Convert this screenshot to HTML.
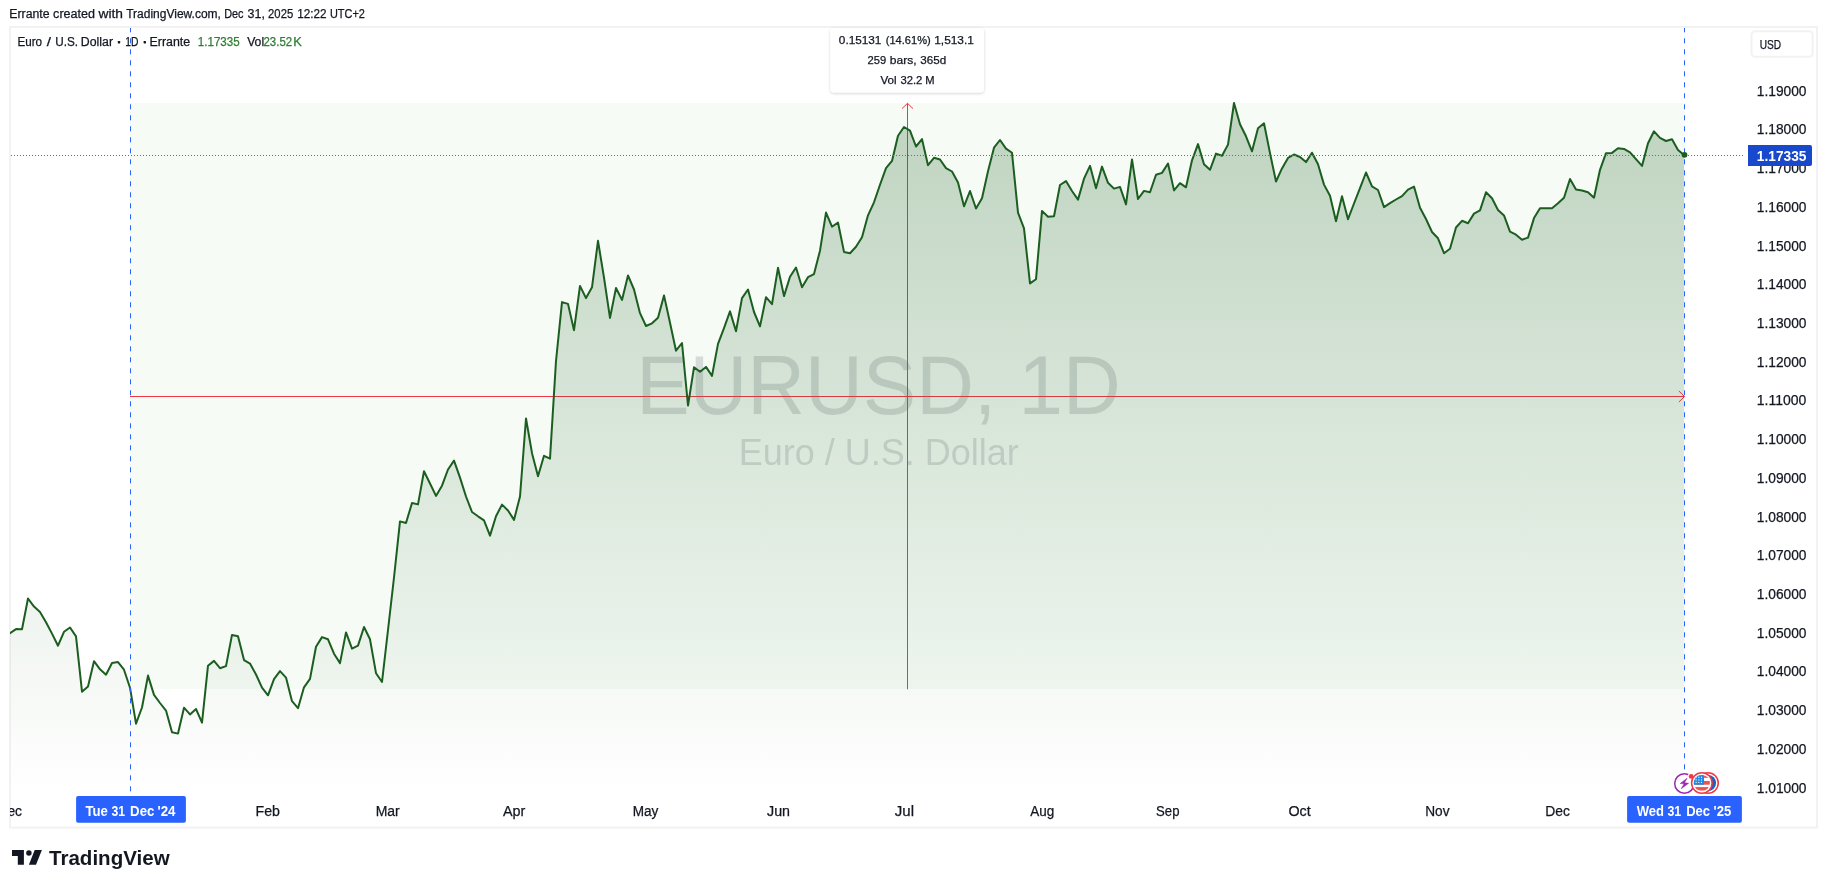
<!DOCTYPE html>
<html><head><meta charset="utf-8"><title>EURUSD chart</title>
<style>
html,body{margin:0;padding:0;background:#fff;}
body{width:1827px;height:888px;overflow:hidden;font-family:"Liberation Sans",sans-serif;}
svg{display:block;font-family:"Liberation Sans",sans-serif;will-change:transform;}
</style></head><body>
<svg width="1827" height="888" viewBox="0 0 1827 888">
<defs>
<linearGradient id="ag" gradientUnits="userSpaceOnUse" x1="0" y1="28" x2="0" y2="795.5">
<stop offset="0" stop-color="#1b5e20" stop-opacity="0.28"/>
<stop offset="1" stop-color="#1b5e20" stop-opacity="0"/>
</linearGradient>
<clipPath id="pane"><rect x="10" y="28" width="1806" height="799"/></clipPath>
<clipPath id="flag"><circle cx="1701.85" cy="783" r="8.1"/></clipPath>
<filter id="sh" x="-10%" y="-10%" width="120%" height="130%"><feDropShadow dx="0" dy="1" stdDeviation="1.5" flood-color="#000" flood-opacity="0.18"/></filter>
</defs>
<rect width="1827" height="888" fill="#fff"/>

<rect x="10" y="27" width="1807" height="800.6" fill="#fff" stroke="#f2f2f2" stroke-width="2"/>
<g clip-path="url(#pane)">
<text x="878.45" y="0" font-size="80" fill="rgb(120,123,134)" fill-opacity="0.25" text-anchor="middle" transform="translate(0,414) scale(1,1.045)">EURUSD, 1D</text>
<text x="878.7" y="0" font-size="36" fill="rgb(120,123,134)" fill-opacity="0.25" text-anchor="middle" transform="translate(0,465) scale(1,1.02)">Euro / U.S. Dollar</text>
<rect x="130" y="103" width="1554.5" height="586" fill="#4caf50" fill-opacity="0.05"/>
<line x1="130" y1="396.5" x2="1684.5" y2="396.5" stroke="#f23645" stroke-width="1"/>
<path d="M1678.9,391 L1684.5,396.5 L1678.9,402" fill="none" stroke="#f23645" stroke-width="1"/>
<line x1="907.5" y1="103.3" x2="907.5" y2="689.3" stroke="#f23645" stroke-width="1"/>
<path d="M902,108.6 L907.5,103.3 L913,108.6" fill="none" stroke="#f23645" stroke-width="1"/>
<path d="M10.0,633.3 L16.0,629.1 L22.0,629.3 L28.0,598.5 L34.0,606.6 L40.0,612.0 L46.0,622.3 L52.0,633.6 L58.0,645.7 L64.0,631.8 L70.0,627.5 L76.0,636.4 L82.0,691.7 L88.0,686.4 L94.0,661.2 L100.0,669.3 L106.0,674.7 L112.0,663.0 L118.0,662.1 L124.0,669.7 L130.0,687.7 L136.0,723.7 L142.0,707.5 L148.0,675.6 L154.0,694.9 L160.0,703.0 L166.0,710.6 L172.0,732.2 L178.0,733.6 L184.0,707.7 L190.0,714.4 L196.0,709.0 L202.0,722.7 L208.0,665.7 L214.0,660.9 L220.0,668.2 L226.0,666.1 L232.0,634.9 L238.0,636.2 L244.0,660.1 L250.0,663.6 L256.0,674.5 L262.0,687.7 L268.0,695.3 L274.0,679.1 L280.0,671.1 L286.0,677.6 L292.0,701.2 L298.0,708.2 L304.0,687.3 L310.0,678.9 L316.0,646.8 L322.0,637.1 L328.0,639.3 L334.0,653.7 L340.0,663.1 L346.0,632.4 L352.0,648.6 L358.0,645.6 L364.0,627.0 L370.0,639.3 L376.0,673.2 L382.0,682.0 L388.0,630.0 L394.0,577.5 L400.0,521.4 L406.0,523.0 L412.0,503.0 L418.0,504.4 L424.0,471.3 L430.0,483.5 L436.0,495.9 L442.0,485.7 L448.0,469.5 L454.0,460.6 L460.0,477.6 L466.0,496.5 L472.0,512.0 L478.0,516.3 L484.0,520.3 L490.0,535.6 L496.0,516.3 L502.0,504.6 L508.0,510.5 L514.0,519.9 L520.0,496.5 L526.0,418.5 L532.0,453.2 L538.0,476.3 L544.0,455.8 L550.0,458.6 L556.0,361.0 L562.0,302.1 L568.0,303.9 L574.0,330.2 L580.0,285.9 L586.0,298.1 L592.0,287.3 L598.0,240.8 L604.0,277.7 L610.0,317.9 L616.0,288.0 L622.0,299.9 L628.0,275.4 L634.0,289.5 L640.0,313.2 L646.0,326.0 L652.0,323.3 L658.0,317.7 L664.0,295.4 L670.0,322.8 L676.0,350.7 L682.0,343.0 L688.0,405.5 L694.0,367.3 L700.0,371.8 L706.0,366.9 L712.0,375.9 L718.0,343.9 L724.0,328.2 L730.0,311.4 L736.0,331.3 L742.0,298.1 L748.0,289.5 L754.0,312.0 L760.0,326.4 L766.0,297.2 L772.0,304.2 L778.0,267.8 L784.0,296.1 L790.0,276.8 L796.0,267.5 L802.0,287.3 L808.0,277.2 L814.0,274.1 L820.0,250.7 L826.0,212.6 L832.0,226.7 L838.0,222.5 L844.0,251.9 L850.0,253.2 L856.0,246.8 L862.0,237.3 L868.0,215.3 L874.0,202.3 L880.0,184.7 L886.0,168.1 L892.0,160.9 L898.0,135.7 L904.0,127.0 L910.0,130.6 L916.0,146.5 L922.0,139.1 L928.0,165.2 L934.0,157.8 L940.0,159.5 L946.0,168.1 L952.0,171.5 L958.0,182.5 L964.0,206.3 L970.0,191.0 L976.0,208.5 L982.0,198.2 L988.0,171.2 L994.0,147.7 L1000.0,140.0 L1006.0,148.6 L1012.0,152.8 L1018.0,212.6 L1024.0,228.3 L1030.0,283.4 L1036.0,279.2 L1042.0,210.9 L1048.0,216.8 L1054.0,216.2 L1060.0,185.0 L1066.0,181.1 L1072.0,191.0 L1078.0,199.6 L1084.0,178.7 L1090.0,165.8 L1096.0,188.3 L1102.0,166.6 L1108.0,182.8 L1114.0,188.6 L1120.0,186.9 L1126.0,204.4 L1132.0,159.4 L1138.0,199.0 L1144.0,190.9 L1150.0,192.3 L1156.0,174.7 L1162.0,172.9 L1168.0,163.5 L1174.0,190.4 L1180.0,183.2 L1186.0,187.3 L1192.0,160.3 L1198.0,144.1 L1204.0,164.2 L1210.0,169.8 L1216.0,153.6 L1222.0,155.8 L1228.0,144.6 L1234.0,103.0 L1240.0,124.2 L1246.0,136.3 L1252.0,151.3 L1258.0,128.2 L1264.0,123.3 L1270.0,153.1 L1276.0,181.5 L1282.0,168.4 L1288.0,157.9 L1294.0,154.5 L1300.0,157.0 L1306.0,162.1 L1312.0,152.7 L1318.0,164.2 L1324.0,184.6 L1330.0,195.8 L1336.0,221.2 L1342.0,196.3 L1348.0,219.2 L1354.0,203.5 L1360.0,188.2 L1366.0,172.5 L1372.0,186.4 L1378.0,190.0 L1384.0,207.1 L1390.0,203.2 L1396.0,199.5 L1402.0,196.1 L1408.0,189.6 L1414.0,186.6 L1420.0,207.7 L1426.0,219.0 L1432.0,232.0 L1438.0,238.3 L1444.0,253.2 L1450.0,248.7 L1456.0,227.5 L1462.0,220.8 L1468.0,223.2 L1474.0,213.6 L1480.0,210.4 L1486.0,192.3 L1492.0,198.3 L1498.0,210.0 L1504.0,215.4 L1510.0,231.6 L1516.0,234.7 L1522.0,239.7 L1528.0,237.6 L1534.0,218.1 L1540.0,208.2 L1546.0,208.2 L1552.0,208.2 L1558.0,203.3 L1564.0,197.7 L1570.0,179.0 L1576.0,189.6 L1582.0,190.5 L1588.0,192.3 L1594.0,197.7 L1600.0,169.8 L1606.0,153.2 L1612.0,152.9 L1618.0,148.2 L1624.0,148.9 L1630.0,152.3 L1636.0,159.2 L1642.0,165.9 L1648.0,143.3 L1654.0,131.3 L1660.0,137.9 L1666.0,141.0 L1672.0,139.2 L1678.0,150.0 L1684.0,155.0 L1684.0,795.5 L10.0,795.5 Z" fill="url(#ag)"/>
<path d="M10.0,633.3 L16.0,629.1 L22.0,629.3 L28.0,598.5 L34.0,606.6 L40.0,612.0 L46.0,622.3 L52.0,633.6 L58.0,645.7 L64.0,631.8 L70.0,627.5 L76.0,636.4 L82.0,691.7 L88.0,686.4 L94.0,661.2 L100.0,669.3 L106.0,674.7 L112.0,663.0 L118.0,662.1 L124.0,669.7 L130.0,687.7 L136.0,723.7 L142.0,707.5 L148.0,675.6 L154.0,694.9 L160.0,703.0 L166.0,710.6 L172.0,732.2 L178.0,733.6 L184.0,707.7 L190.0,714.4 L196.0,709.0 L202.0,722.7 L208.0,665.7 L214.0,660.9 L220.0,668.2 L226.0,666.1 L232.0,634.9 L238.0,636.2 L244.0,660.1 L250.0,663.6 L256.0,674.5 L262.0,687.7 L268.0,695.3 L274.0,679.1 L280.0,671.1 L286.0,677.6 L292.0,701.2 L298.0,708.2 L304.0,687.3 L310.0,678.9 L316.0,646.8 L322.0,637.1 L328.0,639.3 L334.0,653.7 L340.0,663.1 L346.0,632.4 L352.0,648.6 L358.0,645.6 L364.0,627.0 L370.0,639.3 L376.0,673.2 L382.0,682.0 L388.0,630.0 L394.0,577.5 L400.0,521.4 L406.0,523.0 L412.0,503.0 L418.0,504.4 L424.0,471.3 L430.0,483.5 L436.0,495.9 L442.0,485.7 L448.0,469.5 L454.0,460.6 L460.0,477.6 L466.0,496.5 L472.0,512.0 L478.0,516.3 L484.0,520.3 L490.0,535.6 L496.0,516.3 L502.0,504.6 L508.0,510.5 L514.0,519.9 L520.0,496.5 L526.0,418.5 L532.0,453.2 L538.0,476.3 L544.0,455.8 L550.0,458.6 L556.0,361.0 L562.0,302.1 L568.0,303.9 L574.0,330.2 L580.0,285.9 L586.0,298.1 L592.0,287.3 L598.0,240.8 L604.0,277.7 L610.0,317.9 L616.0,288.0 L622.0,299.9 L628.0,275.4 L634.0,289.5 L640.0,313.2 L646.0,326.0 L652.0,323.3 L658.0,317.7 L664.0,295.4 L670.0,322.8 L676.0,350.7 L682.0,343.0 L688.0,405.5 L694.0,367.3 L700.0,371.8 L706.0,366.9 L712.0,375.9 L718.0,343.9 L724.0,328.2 L730.0,311.4 L736.0,331.3 L742.0,298.1 L748.0,289.5 L754.0,312.0 L760.0,326.4 L766.0,297.2 L772.0,304.2 L778.0,267.8 L784.0,296.1 L790.0,276.8 L796.0,267.5 L802.0,287.3 L808.0,277.2 L814.0,274.1 L820.0,250.7 L826.0,212.6 L832.0,226.7 L838.0,222.5 L844.0,251.9 L850.0,253.2 L856.0,246.8 L862.0,237.3 L868.0,215.3 L874.0,202.3 L880.0,184.7 L886.0,168.1 L892.0,160.9 L898.0,135.7 L904.0,127.0 L910.0,130.6 L916.0,146.5 L922.0,139.1 L928.0,165.2 L934.0,157.8 L940.0,159.5 L946.0,168.1 L952.0,171.5 L958.0,182.5 L964.0,206.3 L970.0,191.0 L976.0,208.5 L982.0,198.2 L988.0,171.2 L994.0,147.7 L1000.0,140.0 L1006.0,148.6 L1012.0,152.8 L1018.0,212.6 L1024.0,228.3 L1030.0,283.4 L1036.0,279.2 L1042.0,210.9 L1048.0,216.8 L1054.0,216.2 L1060.0,185.0 L1066.0,181.1 L1072.0,191.0 L1078.0,199.6 L1084.0,178.7 L1090.0,165.8 L1096.0,188.3 L1102.0,166.6 L1108.0,182.8 L1114.0,188.6 L1120.0,186.9 L1126.0,204.4 L1132.0,159.4 L1138.0,199.0 L1144.0,190.9 L1150.0,192.3 L1156.0,174.7 L1162.0,172.9 L1168.0,163.5 L1174.0,190.4 L1180.0,183.2 L1186.0,187.3 L1192.0,160.3 L1198.0,144.1 L1204.0,164.2 L1210.0,169.8 L1216.0,153.6 L1222.0,155.8 L1228.0,144.6 L1234.0,103.0 L1240.0,124.2 L1246.0,136.3 L1252.0,151.3 L1258.0,128.2 L1264.0,123.3 L1270.0,153.1 L1276.0,181.5 L1282.0,168.4 L1288.0,157.9 L1294.0,154.5 L1300.0,157.0 L1306.0,162.1 L1312.0,152.7 L1318.0,164.2 L1324.0,184.6 L1330.0,195.8 L1336.0,221.2 L1342.0,196.3 L1348.0,219.2 L1354.0,203.5 L1360.0,188.2 L1366.0,172.5 L1372.0,186.4 L1378.0,190.0 L1384.0,207.1 L1390.0,203.2 L1396.0,199.5 L1402.0,196.1 L1408.0,189.6 L1414.0,186.6 L1420.0,207.7 L1426.0,219.0 L1432.0,232.0 L1438.0,238.3 L1444.0,253.2 L1450.0,248.7 L1456.0,227.5 L1462.0,220.8 L1468.0,223.2 L1474.0,213.6 L1480.0,210.4 L1486.0,192.3 L1492.0,198.3 L1498.0,210.0 L1504.0,215.4 L1510.0,231.6 L1516.0,234.7 L1522.0,239.7 L1528.0,237.6 L1534.0,218.1 L1540.0,208.2 L1546.0,208.2 L1552.0,208.2 L1558.0,203.3 L1564.0,197.7 L1570.0,179.0 L1576.0,189.6 L1582.0,190.5 L1588.0,192.3 L1594.0,197.7 L1600.0,169.8 L1606.0,153.2 L1612.0,152.9 L1618.0,148.2 L1624.0,148.9 L1630.0,152.3 L1636.0,159.2 L1642.0,165.9 L1648.0,143.3 L1654.0,131.3 L1660.0,137.9 L1666.0,141.0 L1672.0,139.2 L1678.0,150.0 L1684.0,155.0" fill="none" stroke="#1b5e20" stroke-width="2" stroke-linejoin="round" stroke-linecap="round"/>
<line x1="11" y1="155.5" x2="1745" y2="155.5" stroke="#f23645" stroke-width="1" stroke-dasharray="1 2"/>
<line x1="130.5" y1="27.3" x2="130.5" y2="795" stroke="#2962ff" stroke-width="1" stroke-dasharray="5 6"/>
<line x1="1684.5" y1="27.3" x2="1684.5" y2="795" stroke="#2962ff" stroke-width="1" stroke-dasharray="5 6"/>
<circle cx="1684.5" cy="154.8" r="2.9" fill="#1b5e20"/>
</g>
<rect x="830.3" y="28.1" width="153.7" height="64.5" rx="4" fill="#fff" filter="url(#sh)"/>
<rect x="1751.5" y="31.2" width="61.1" height="25.5" rx="3.5" fill="#fff" stroke="#f2f2f2" stroke-width="2"/>
<rect x="76.1" y="796" width="109.8" height="26.8" rx="2" fill="#2962ff"/>
<rect x="1627.1" y="796" width="114.8" height="26.8" rx="2" fill="#2962ff"/>
<circle cx="1684.4" cy="783.5" r="9.7" fill="#fff" stroke="#9c27b0" stroke-width="1.5"/>
<path d="M1687.07,778.2 L1680.18,783.53 L1684.12,783.84 L1681.16,788.85 L1688.65,783.21 L1684.51,782.82 Z" fill="#9c27b0" stroke="#9c27b0" stroke-width="0.5" stroke-linejoin="round"/>
<circle cx="1691.2" cy="776.4" r="3.4" fill="#fff"/>
<circle cx="1691.2" cy="776.4" r="2.4" fill="#f23645"/>
<circle cx="1708" cy="783" r="10.25" fill="#fff" stroke="#f23645" stroke-width="1.5"/>
<circle cx="1708" cy="783" r="8.1" fill="#1565c0"/>
<circle cx="1701.85" cy="783" r="10.25" fill="#fff" stroke="#f23645" stroke-width="1.5"/>
<g clip-path="url(#flag)">
<rect x="1690" y="770" width="24" height="26" fill="#fff"/>
<rect x="1690" y="775.45" width="24" height="2.36" fill="#ef5350"/>
<rect x="1690" y="780.96" width="24" height="3.74" fill="#ef5350"/>
<rect x="1690" y="787.07" width="24" height="3.55" fill="#ef5350"/>
<rect x="1690" y="770" width="14.02" height="14.71" fill="#1e88e5"/>
<rect x="1695.59" y="776.75" width="1.1" height="1.1" fill="#fff"/>
<rect x="1695.59" y="779.35" width="1.1" height="1.1" fill="#fff"/>
<rect x="1695.59" y="781.87" width="1.1" height="1.1" fill="#fff"/>
<rect x="1698.27" y="776.75" width="1.1" height="1.1" fill="#fff"/>
<rect x="1698.27" y="779.35" width="1.1" height="1.1" fill="#fff"/>
<rect x="1698.27" y="781.87" width="1.1" height="1.1" fill="#fff"/>
<rect x="1700.95" y="776.75" width="1.1" height="1.1" fill="#fff"/>
<rect x="1700.95" y="779.35" width="1.1" height="1.1" fill="#fff"/>
<rect x="1700.95" y="781.87" width="1.1" height="1.1" fill="#fff"/>
</g>
<path d="M12,850.1 H23.9 V864.8 H17.8 V856 H12 Z" fill="#131722"/>
<circle cx="28.9" cy="853" r="2.75" fill="#131722"/>
<path d="M34.7,850.1 H41.9 L36,864.8 H28.9 Z" fill="#131722"/>
<rect x="117.8" y="41" width="2.4" height="2.4" rx="0.6" fill="#131722"/><rect x="143.6" y="41" width="2.4" height="2.4" rx="0.6" fill="#131722"/>
<text x="9.32" y="18.3" font-size="12" font-weight="normal" fill="#131722" textLength="40.32" lengthAdjust="spacingAndGlyphs" stroke="#131722" stroke-width="0.25">Errante</text>
<text x="53.12" y="18.3" font-size="12" font-weight="normal" fill="#131722" textLength="41.89" lengthAdjust="spacingAndGlyphs" stroke="#131722" stroke-width="0.25">created</text>
<text x="98.45" y="18.3" font-size="12" font-weight="normal" fill="#131722" textLength="24.49" lengthAdjust="spacingAndGlyphs" stroke="#131722" stroke-width="0.25">with</text>
<text x="126.22" y="18.3" font-size="12" font-weight="normal" fill="#131722" textLength="94.69" lengthAdjust="spacingAndGlyphs" stroke="#131722" stroke-width="0.25">TradingView.com,</text>
<text x="224.17" y="18.3" font-size="12" font-weight="normal" fill="#131722" textLength="19.36" lengthAdjust="spacingAndGlyphs" stroke="#131722" stroke-width="0.25">Dec</text>
<text x="247.5" y="18.3" font-size="12" font-weight="normal" fill="#131722" textLength="17.35" lengthAdjust="spacingAndGlyphs" stroke="#131722" stroke-width="0.25">31,</text>
<text x="268.1" y="18.3" font-size="12" font-weight="normal" fill="#131722" textLength="25.11" lengthAdjust="spacingAndGlyphs" stroke="#131722" stroke-width="0.25">2025</text>
<text x="297.29" y="18.3" font-size="12" font-weight="normal" fill="#131722" textLength="29.25" lengthAdjust="spacingAndGlyphs" stroke="#131722" stroke-width="0.25">12:22</text>
<text x="329.93" y="18.3" font-size="12" font-weight="normal" fill="#131722" textLength="34.93" lengthAdjust="spacingAndGlyphs" stroke="#131722" stroke-width="0.25">UTC+2</text>
<text x="17.43" y="45.5" font-size="12" font-weight="normal" fill="#131722" textLength="24.64" lengthAdjust="spacingAndGlyphs" stroke="#131722" stroke-width="0.25">Euro</text>
<text x="46.8" y="45.5" font-size="12" font-weight="normal" fill="#131722" textLength="4.23" lengthAdjust="spacingAndGlyphs" stroke="#131722" stroke-width="0.25">/</text>
<text x="55.17" y="45.5" font-size="12" font-weight="normal" fill="#131722" textLength="22.82" lengthAdjust="spacingAndGlyphs" stroke="#131722" stroke-width="0.25">U.S.</text>
<text x="80.82" y="45.5" font-size="12" font-weight="normal" fill="#131722" textLength="32.17" lengthAdjust="spacingAndGlyphs" stroke="#131722" stroke-width="0.25">Dollar</text>
<text x="125.35" y="45.5" font-size="12" font-weight="normal" fill="#131722" textLength="13.19" lengthAdjust="spacingAndGlyphs" stroke="#131722" stroke-width="0.25">1D</text>
<text x="149.51" y="45.5" font-size="12" font-weight="normal" fill="#131722" textLength="40.62" lengthAdjust="spacingAndGlyphs" stroke="#131722" stroke-width="0.25">Errante</text>
<text x="197.8" y="45.5" font-size="12" font-weight="normal" fill="#2e7d32" textLength="41.92" lengthAdjust="spacingAndGlyphs" stroke="#2e7d32" stroke-width="0.25">1.17335</text>
<text x="247.2" y="45.5" font-size="12" font-weight="normal" fill="#131722" textLength="16.9" lengthAdjust="spacingAndGlyphs" stroke="#131722" stroke-width="0.25">Vol</text>
<text x="263.49" y="45.5" font-size="12" font-weight="normal" fill="#2e7d32" textLength="28.63" lengthAdjust="spacingAndGlyphs" stroke="#2e7d32" stroke-width="0.25">23.52</text>
<text x="293.27" y="45.5" font-size="12" font-weight="normal" fill="#2e7d32" textLength="8.59" lengthAdjust="spacingAndGlyphs" stroke="#2e7d32" stroke-width="0.25">K</text>
<text x="838.89" y="43.6" font-size="11.3" font-weight="normal" fill="#131722" textLength="42.51" lengthAdjust="spacingAndGlyphs" stroke="#131722" stroke-width="0.25">0.15131</text>
<text x="885.78" y="43.6" font-size="11.3" font-weight="normal" fill="#131722" textLength="44.96" lengthAdjust="spacingAndGlyphs" stroke="#131722" stroke-width="0.25">(14.61%)</text>
<text x="934.26" y="43.6" font-size="11.3" font-weight="normal" fill="#131722" textLength="39.65" lengthAdjust="spacingAndGlyphs" stroke="#131722" stroke-width="0.25">1,513.1</text>
<text x="867.5" y="63.7" font-size="11.3" font-weight="normal" fill="#131722" textLength="18.62" lengthAdjust="spacingAndGlyphs" stroke="#131722" stroke-width="0.25">259</text>
<text x="889.86" y="63.7" font-size="11.3" font-weight="normal" fill="#131722" textLength="26.82" lengthAdjust="spacingAndGlyphs" stroke="#131722" stroke-width="0.25">bars,</text>
<text x="920.33" y="63.7" font-size="11.3" font-weight="normal" fill="#131722" textLength="25.94" lengthAdjust="spacingAndGlyphs" stroke="#131722" stroke-width="0.25">365d</text>
<text x="880.49" y="83.6" font-size="11.3" font-weight="normal" fill="#131722" textLength="16.15" lengthAdjust="spacingAndGlyphs" stroke="#131722" stroke-width="0.25">Vol</text>
<text x="900.44" y="83.6" font-size="11.3" font-weight="normal" fill="#131722" textLength="21.94" lengthAdjust="spacingAndGlyphs" stroke="#131722" stroke-width="0.25">32.2</text>
<text x="925.26" y="83.6" font-size="11.3" font-weight="normal" fill="#131722" textLength="9.31" lengthAdjust="spacingAndGlyphs" stroke="#131722" stroke-width="0.25">M</text>
<text x="1759.75" y="48.9" font-size="12" font-weight="normal" fill="#131722" textLength="21.45" lengthAdjust="spacingAndGlyphs" stroke="#131722" stroke-width="0.25">USD</text>
<text x="1756.77" y="95.6" font-size="14" font-weight="normal" fill="#131722" textLength="49.71" lengthAdjust="spacingAndGlyphs" stroke="#131722" stroke-width="0.25">1.19000</text>
<text x="1756.77" y="134.3" font-size="14" font-weight="normal" fill="#131722" textLength="49.71" lengthAdjust="spacingAndGlyphs" stroke="#131722" stroke-width="0.25">1.18000</text>
<text x="1756.77" y="173.0" font-size="14" font-weight="normal" fill="#131722" textLength="49.71" lengthAdjust="spacingAndGlyphs" stroke="#131722" stroke-width="0.25">1.17000</text>
<text x="1756.77" y="211.8" font-size="14" font-weight="normal" fill="#131722" textLength="49.71" lengthAdjust="spacingAndGlyphs" stroke="#131722" stroke-width="0.25">1.16000</text>
<text x="1756.77" y="250.5" font-size="14" font-weight="normal" fill="#131722" textLength="49.71" lengthAdjust="spacingAndGlyphs" stroke="#131722" stroke-width="0.25">1.15000</text>
<text x="1756.77" y="289.2" font-size="14" font-weight="normal" fill="#131722" textLength="49.71" lengthAdjust="spacingAndGlyphs" stroke="#131722" stroke-width="0.25">1.14000</text>
<text x="1756.77" y="327.9" font-size="14" font-weight="normal" fill="#131722" textLength="49.71" lengthAdjust="spacingAndGlyphs" stroke="#131722" stroke-width="0.25">1.13000</text>
<text x="1756.77" y="366.6" font-size="14" font-weight="normal" fill="#131722" textLength="49.71" lengthAdjust="spacingAndGlyphs" stroke="#131722" stroke-width="0.25">1.12000</text>
<text x="1756.75" y="405.4" font-size="14" font-weight="normal" fill="#131722" textLength="49.6" lengthAdjust="spacingAndGlyphs" stroke="#131722" stroke-width="0.25">1.11000</text>
<text x="1756.77" y="444.1" font-size="14" font-weight="normal" fill="#131722" textLength="49.71" lengthAdjust="spacingAndGlyphs" stroke="#131722" stroke-width="0.25">1.10000</text>
<text x="1756.77" y="482.8" font-size="14" font-weight="normal" fill="#131722" textLength="49.71" lengthAdjust="spacingAndGlyphs" stroke="#131722" stroke-width="0.25">1.09000</text>
<text x="1756.77" y="521.5" font-size="14" font-weight="normal" fill="#131722" textLength="49.71" lengthAdjust="spacingAndGlyphs" stroke="#131722" stroke-width="0.25">1.08000</text>
<text x="1756.77" y="560.2" font-size="14" font-weight="normal" fill="#131722" textLength="49.71" lengthAdjust="spacingAndGlyphs" stroke="#131722" stroke-width="0.25">1.07000</text>
<text x="1756.77" y="599.0" font-size="14" font-weight="normal" fill="#131722" textLength="49.71" lengthAdjust="spacingAndGlyphs" stroke="#131722" stroke-width="0.25">1.06000</text>
<text x="1756.77" y="637.7" font-size="14" font-weight="normal" fill="#131722" textLength="49.71" lengthAdjust="spacingAndGlyphs" stroke="#131722" stroke-width="0.25">1.05000</text>
<text x="1756.77" y="676.4" font-size="14" font-weight="normal" fill="#131722" textLength="49.71" lengthAdjust="spacingAndGlyphs" stroke="#131722" stroke-width="0.25">1.04000</text>
<text x="1756.77" y="715.1" font-size="14" font-weight="normal" fill="#131722" textLength="49.71" lengthAdjust="spacingAndGlyphs" stroke="#131722" stroke-width="0.25">1.03000</text>
<text x="1756.77" y="753.8" font-size="14" font-weight="normal" fill="#131722" textLength="49.71" lengthAdjust="spacingAndGlyphs" stroke="#131722" stroke-width="0.25">1.02000</text>
<text x="1756.77" y="792.6" font-size="14" font-weight="normal" fill="#131722" textLength="49.71" lengthAdjust="spacingAndGlyphs" stroke="#131722" stroke-width="0.25">1.01000</text>
<path d="M1748,145 H1810 a2,2 0 0 1 2,2 V164 a2,2 0 0 1 -2,2 H1748 Z" fill="#1848cc"/>
<text x="1756.85" y="160.9" font-size="14" font-weight="bold" fill="#ffffff" textLength="49.53" lengthAdjust="spacingAndGlyphs">1.17335</text>
<text x="255.54" y="816" font-size="14" font-weight="normal" fill="#131722" textLength="24.4" lengthAdjust="spacingAndGlyphs" stroke="#131722" stroke-width="0.25">Feb</text>
<text x="375.65" y="816" font-size="14" font-weight="normal" fill="#131722" textLength="24.09" lengthAdjust="spacingAndGlyphs" stroke="#131722" stroke-width="0.25">Mar</text>
<text x="502.94" y="816" font-size="14" font-weight="normal" fill="#131722" textLength="22.4" lengthAdjust="spacingAndGlyphs" stroke="#131722" stroke-width="0.25">Apr</text>
<text x="632.66" y="816" font-size="14" font-weight="normal" fill="#131722" textLength="25.64" lengthAdjust="spacingAndGlyphs" stroke="#131722" stroke-width="0.25">May</text>
<text x="767.02" y="816" font-size="14" font-weight="normal" fill="#131722" textLength="23.03" lengthAdjust="spacingAndGlyphs" stroke="#131722" stroke-width="0.25">Jun</text>
<text x="894.82" y="816" font-size="14" font-weight="normal" fill="#131722" textLength="19.22" lengthAdjust="spacingAndGlyphs" stroke="#131722" stroke-width="0.25">Jul</text>
<text x="1030.34" y="816" font-size="14" font-weight="normal" fill="#131722" textLength="24.03" lengthAdjust="spacingAndGlyphs" stroke="#131722" stroke-width="0.25">Aug</text>
<text x="1156.08" y="816" font-size="14" font-weight="normal" fill="#131722" textLength="23.36" lengthAdjust="spacingAndGlyphs" stroke="#131722" stroke-width="0.25">Sep</text>
<text x="1288.41" y="816" font-size="14" font-weight="normal" fill="#131722" textLength="22.29" lengthAdjust="spacingAndGlyphs" stroke="#131722" stroke-width="0.25">Oct</text>
<text x="1425.26" y="816" font-size="14" font-weight="normal" fill="#131722" textLength="24.32" lengthAdjust="spacingAndGlyphs" stroke="#131722" stroke-width="0.25">Nov</text>
<text x="1545.36" y="816" font-size="14" font-weight="normal" fill="#131722" textLength="24.66" lengthAdjust="spacingAndGlyphs" stroke="#131722" stroke-width="0.25">Dec</text>
<g clip-path="url(#pane)"><text x="-2.64" y="816" font-size="14" font-weight="normal" fill="#131722" textLength="24.66" lengthAdjust="spacingAndGlyphs" stroke="#131722" stroke-width="0.25">Dec</text></g>
<text x="85.38" y="816" font-size="14" font-weight="bold" fill="#ffffff" textLength="22.47" lengthAdjust="spacingAndGlyphs">Tue</text>
<text x="111.47" y="816" font-size="14" font-weight="bold" fill="#ffffff" textLength="13.55" lengthAdjust="spacingAndGlyphs">31</text>
<text x="130.12" y="816" font-size="14" font-weight="bold" fill="#ffffff" textLength="24.18" lengthAdjust="spacingAndGlyphs">Dec</text>
<text x="157.47" y="816" font-size="14" font-weight="bold" fill="#ffffff" textLength="17.98" lengthAdjust="spacingAndGlyphs">&#39;24</text>
<text x="1636.68" y="816" font-size="14" font-weight="bold" fill="#ffffff" textLength="27.24" lengthAdjust="spacingAndGlyphs">Wed</text>
<text x="1667.47" y="816" font-size="14" font-weight="bold" fill="#ffffff" textLength="13.78" lengthAdjust="spacingAndGlyphs">31</text>
<text x="1686.22" y="816" font-size="14" font-weight="bold" fill="#ffffff" textLength="23.87" lengthAdjust="spacingAndGlyphs">Dec</text>
<text x="1713.58" y="816" font-size="14" font-weight="bold" fill="#ffffff" textLength="17.64" lengthAdjust="spacingAndGlyphs">&#39;25</text>
<text x="49.0" y="864.8" font-size="20.5" font-weight="bold" fill="#131722" textLength="120.65" lengthAdjust="spacingAndGlyphs">TradingView</text>
</svg></body></html>
